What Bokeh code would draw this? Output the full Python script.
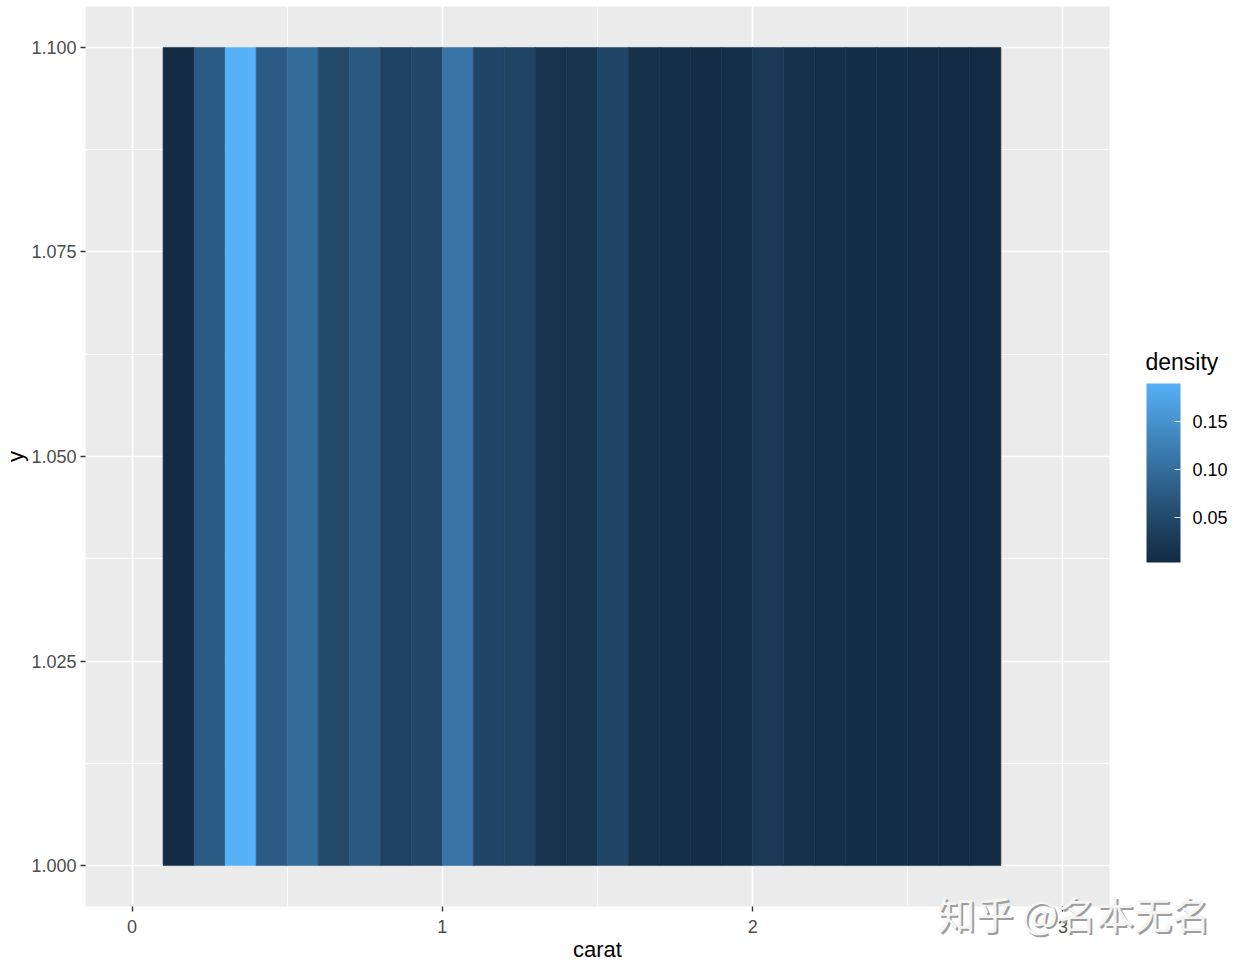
import numpy as np
from bokeh.plotting import figure
from bokeh.models import (ColumnDataSource, LinearColorMapper, ColorBar, FixedTicker,
                          Range1d, PrintfTickFormatter)
from bokeh.embed import file_html
from bokeh.resources import INLINE

# ---------------- data ----------------
bin_width = 0.1
carat_left = [0.1, 0.2, 0.3, 0.4, 0.5, 0.6, 0.7, 0.8, 0.9, 1.0, 1.1, 1.2, 1.3, 1.4,
              1.5, 1.6, 1.7, 1.8, 1.9, 2.0, 2.1, 2.2, 2.3, 2.4, 2.5, 2.6, 2.7]
density = [0.003, 0.072, 0.189, 0.075, 0.097, 0.048, 0.070, 0.038, 0.045, 0.108,
           0.043, 0.040, 0.015, 0.017, 0.043, 0.012, 0.009, 0.006, 0.009, 0.025,
           0.012, 0.010, 0.008, 0.007, 0.006, 0.005, 0.003]
y_bottom = 1.0
y_top = 1.1

x_ticks = [0, 1, 2, 3]
x_minor = [0.5, 1.5, 2.5]
y_ticks = [1.000, 1.025, 1.050, 1.075, 1.100]
y_minor = [1.0125, 1.0375, 1.0625, 1.0875]
cb_ticks = [0.05, 0.10, 0.15]
legend_title = "density"
watermark = "知乎 @名本无名"

# ---------------- Lab gradient (ggplot default) ----------------
def hex_to_rgb(h):
    h = h.lstrip("#")
    return np.array([int(h[i:i + 2], 16) for i in (0, 2, 4)]) / 255.0

def srgb_to_lin(c):
    return np.where(c <= 0.04045, c / 12.92, ((c + 0.055) / 1.055) ** 2.4)

def lin_to_srgb(c):
    c = np.clip(c, 0, 1)
    return np.where(c <= 0.0031308, 12.92 * c, 1.055 * c ** (1 / 2.4) - 0.055)

M = np.array([[0.4124, 0.3576, 0.1805], [0.2126, 0.7152, 0.0722], [0.0193, 0.1192, 0.9505]])
Minv = np.linalg.inv(M)
WP = np.array([0.95047, 1.0, 1.08883])

def f(t):
    return np.where(t > (6 / 29) ** 3, np.cbrt(t), t / (3 * (6 / 29) ** 2) + 4 / 29)

def finv(t):
    return np.where(t > 6 / 29, t ** 3, 3 * (6 / 29) ** 2 * (t - 4 / 29))

def to_lab(h):
    xyz = M @ srgb_to_lin(hex_to_rgb(h)) / WP
    fx, fy, fz = f(xyz)
    return np.array([116 * fy - 16, 500 * (fx - fy), 200 * (fy - fz)])

def from_lab(lab):
    L, a, b = lab
    fy = (L + 16) / 116
    fx = fy + a / 500
    fz = fy - b / 200
    xyz = finv(np.array([fx, fy, fz])) * WP
    rgb = lin_to_srgb(Minv @ xyz)
    return "#%02x%02x%02x" % tuple(int(round(v * 255)) for v in rgb)

lo, hi = to_lab("#132B43"), to_lab("#56B1F7")
palette = [from_lab(lo + (hi - lo) * t) for t in np.linspace(0, 1, 256)]

# ---------------- figure ----------------
FONT = "Liberation Sans"
p = figure(frame_width=1024, frame_height=900, output_backend="svg", toolbar_location=None,
           x_range=Range1d(-0.15, 3.15), y_range=Range1d(0.995, 1.105),
           min_border_left=79, min_border_right=121, min_border_top=6, min_border_bottom=50)
p.background_fill_color = "#EBEBEB"
p.border_fill_color = "white"
p.outline_line_color = None

mapper = LinearColorMapper(palette=palette, low=min(density), high=max(density))
src = ColumnDataSource(dict(left=carat_left,
                            right=[c + bin_width for c in carat_left],
                            density=density))
p.quad(left="left", right="right", bottom=y_bottom, top=y_top, source=src,
       fill_color={"field": "density", "transform": mapper},
       line_color={"field": "density", "transform": mapper}, line_width=0.6)

p.xaxis.ticker = FixedTicker(ticks=x_ticks, minor_ticks=x_minor)
p.yaxis.ticker = FixedTicker(ticks=y_ticks, minor_ticks=y_minor)
p.xaxis.formatter = PrintfTickFormatter(format="%d")
p.yaxis.formatter = PrintfTickFormatter(format="%.3f")

for g in (p.xgrid, p.ygrid):
    g.grid_line_color = "white"
    g.grid_line_width = 1.6
    g.minor_grid_line_color = "white"
    g.minor_grid_line_width = 0.8

for ax in (p.xaxis, p.yaxis):
    ax.axis_line_color = None
    ax.minor_tick_line_color = None
    ax.major_tick_line_color = "#333333"
    ax.major_tick_line_width = 1.4
    ax.major_tick_in = 0
    ax.major_tick_out = 5
    ax.major_label_text_font = FONT
    ax.major_label_text_font_size = "18px"
    ax.major_label_text_color = "#4D4D4D"
    ax.axis_label_text_font = FONT
    ax.axis_label_text_font_size = "22px"
    ax.axis_label_text_font_style = "normal"
    ax.axis_label_text_color = "black"

p.xaxis.axis_label = "carat"
p.yaxis.axis_label = "y"
p.xaxis.major_label_standoff = 8
p.yaxis.major_label_standoff = 4
p.xaxis.axis_label_standoff = 1
p.yaxis.axis_label_standoff = 0

# colour bar (no built-in title: it would be rotated)
cb = ColorBar(color_mapper=mapper, ticker=FixedTicker(ticks=cb_ticks),
              formatter=PrintfTickFormatter(format="%.2f"),
              width=34, height=179, padding=0, margin=0,
              location=(1061, 344),
              major_label_text_font=FONT, major_label_text_font_size="18px",
              major_label_text_color="black", label_standoff=12,
              major_tick_line_color="white", major_tick_line_width=1.2,
              major_tick_in=6, major_tick_out=0,
              bar_line_color=None, background_fill_color=None, border_line_color=None,
              level="overlay")
p.add_layout(cb, "center")

def text_box(text, loc, font, size, color):
    """Horizontal colour bar with an invisible bar, used only as a free text box."""
    return ColorBar(color_mapper=mapper, ticker=FixedTicker(ticks=[]),
                    orientation="horizontal", width=1, height=1, padding=0, margin=0,
                    scale_alpha=0, location=loc, title=text, title_standoff=0,
                    title_text_font=font, title_text_font_size=size,
                    title_text_font_style="normal", title_text_color=color,
                    major_label_text_alpha=0, major_tick_line_color=None,
                    bar_line_color=None, background_fill_color=None,
                    border_line_color=None, level="overlay")

p.add_layout(text_box(legend_title, (1060, 531), FONT, "23px", "black"), "center")
p.add_layout(text_box(watermark, (854, -36), "Noto Sans CJK SC", "38px", "#9E9E9E"), "center")
p.add_layout(text_box(watermark, (852, -34), "Noto Sans CJK SC", "38px", "#F4F4F4"), "center")

open("out.html", "w").write(file_html(p, INLINE))
